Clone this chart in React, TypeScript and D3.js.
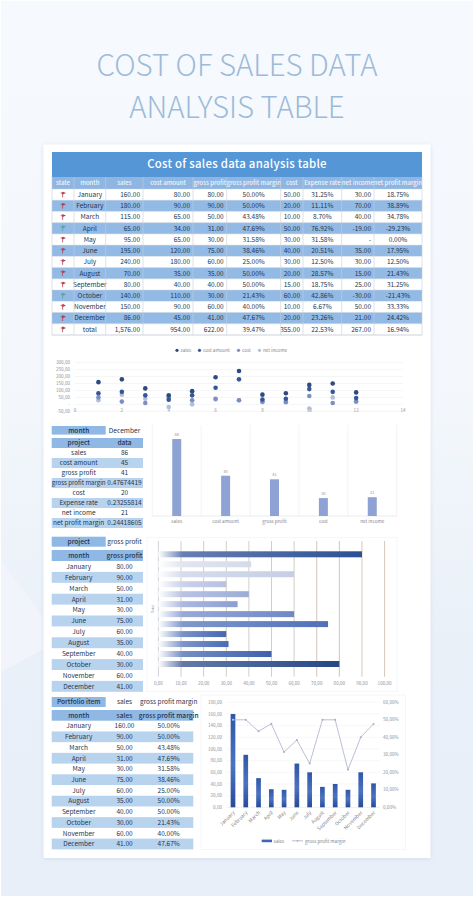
import React from "react";
import * as d3 from "d3";

const months = ["January","February","March","April","May","June","July","August","September","October","November","December"];
const sales = [160,180,115,65,95,195,240,70,80,140,150,86];
const costAmount = [80,90,65,34,65,120,180,35,40,110,90,45];
const grossProfit = [80,90,50,31,30,75,60,35,40,30,60,41];
const grossMargin = [50,50,43.48,47.69,31.58,38.46,25,50,50,21.43,40,47.67];
const cost = [50,20,10,50,30,40,30,20,15,60,10,20];
const expenseRate = [31.25,11.11,8.7,76.92,31.58,20.51,12.5,28.57,18.75,42.86,6.67,23.26];
const netIncome = [30,70,40,-19,0,35,30,15,25,-30,50,21];
const netMargin = [18.75,38.89,34.78,-29.23,0,17.95,12.5,21.43,31.25,-21.43,33.33,24.42];
const totals = ["total","1,576.00","954.00","622.00","39.47%","355.00","22.53%","267.00","16.94%"];
const headers = ["state","month","sales","cost amount","gross profit","gross profit margin","cost","Expense rate","net income","net profit margin"];

const decemberLabels = ["sales","cost amount","gross profit","gross profit margin","cost","Expense rate","net income","net profit margin"];
const decemberValues = ["86","45","41","0.47674419","20","0.23255814","21","0.24418605"];
const barCategories = ["sales","cost amount","gross profit","cost","net income"];
const barValues = [86,45,41,20,21];

const gradientOrder = ["February","December","November","October","September","August","July","June","May","April","March","January"];
const gradientValues = [90,41,60,30,40,35,60,75,30,31,50,80];
const gradientColors = ["#2c4f94","#d5dbea","#c6cee6","#b7c0e0","#9dabd8","#8c9dd2","#6f87c6","#4f70b8","#4568b0","#4a6cb4","#3f62ac","#264685"];

const comboSales = [160,90,50,31,30,75,60,35,40,30,60,41];

const FONT = "'Noto Sans CJK SC', 'Noto Sans', sans-serif";
const INK = "#24364f";
const CELL = 6.5;
const CELL_BOLD = 6.6;
const SMALL = 4.6;
const num = d3.format(",.2f");
const pct = (v: number) => d3.format(".2f")(v).replace("\u2212", "-") + "%";
const plain = (v: number) => (v < 0 ? "-" : "") + d3.format(",.2f")(Math.abs(v));

const colEdges = [52,74,105.7,143,193,226.7,280.7,303,341.7,374,422];
const rowY = d3.scaleLinear().domain([0,13]).range([189,335]);

function Flag({x,y,color}:{x:number;y:number;color:string}) {
  return <g transform={`translate(${x},${y})`}>
    <path d="M-0.4,-2.6V2.8" stroke={color} strokeWidth={0.8} fill="none"/>
    <path d="M-0.2,-2.8L3,-1.5L-0.2,0Z" fill={color}/>
    <path d="M-0.2,-2.8L-2.8,-1.5L-0.2,0Z" fill={color} opacity={0.7}/>
  </g>;
}

function MainTable() {
  const rows = months.map((m,i)=>[
    m,plain(sales[i]),plain(costAmount[i]),plain(grossProfit[i]),pct(grossMargin[i]),plain(cost[i]),pct(expenseRate[i]),
    netIncome[i]===0?"-":plain(netIncome[i]),pct(netMargin[i])
  ]);
  rows.push(totals);
  const anchors = ["middle","end","end","end","middle","end","middle","end","middle"];
  const rightPad = 3;
  return <g fontFamily={FONT}>
    <rect x={52} y={152} width={370} height={25} fill="#5596d6"/>
    <text x={237} y={168.3} textAnchor="middle" fill="#fff" fontSize={11.4} fontWeight={500} letterSpacing={0.25}>Cost of sales data analysis table</text>
    <rect x={52} y={177} width={370} height={12} fill="#8fb6e2"/>
    {headers.map((h,i)=><text key={h} x={(colEdges[i]+colEdges[i+1])/2} y={185.3} textAnchor="middle" fill="#eef5fc" fontSize={6} fontWeight={500}>{h}</text>)}
    {rows.map((r,i)=>{
      const y0=rowY(i), y1=rowY(i+1), blue=i%2===1;
      return <g key={i}>
        <rect x={52} y={y0} width={370} height={y1-y0} fill={blue?"#92bae5":"#fff"}/>
        <Flag x={63} y={(y0+y1)/2} color={i===3||i===9?"#5f9c95":"#b3414c"}/>
        {r.map((c,j)=>{
          const a=anchors[j], L=colEdges[j+1], R=colEdges[j+2];
          return <text key={j} x={a==="end"?R-rightPad:(L+R)/2} y={(y0+y1)/2+2.3} textAnchor={a} fontSize={CELL} fill={INK}>{c}</text>;
        })}
      </g>;
    })}
    {colEdges.map(x=><line key={x} x1={x} x2={x} y1={177} y2={335} stroke="#c8ced8" strokeWidth={0.6}/>)}
    {d3.range(0,14).map(i=><line key={i} x1={52} x2={422} y1={rowY(i)} y2={rowY(i)} stroke="#c8ced8" strokeWidth={0.4}/>)}
    <line x1={52} x2={422} y1={335} y2={335} stroke="#c8ced8" strokeWidth={0.7}/>
  </g>;
}

function Scatter() {
  const x = d3.scaleLinear().domain([0,14]).range([75,403]);
  const y = d3.scaleLinear().domain([-50,300]).range([411.3,362.7]);
  const series = [
    {name:"sales",values:sales,color:"#2e4a7f"},
    {name:"cost amount",values:costAmount,color:"#36569a"},
    {name:"cost",values:cost,color:"#7b8fc1"},
    {name:"net income",values:netIncome,color:"#b6bdd9"},
  ];
  const legendX = [177,199.5,238.5,259.5];
  const ticks = d3.range(-50,301,50);
  const fmt = (t:number)=> t===0?"-":t<0?"-50,00":d3.format(".2f")(t).replace(".",",");
  return <g fontFamily={FONT}>
    {ticks.map(t=><g key={t}>
      <line x1={x(0)} x2={x(14)} y1={y(t)} y2={y(t)} stroke="#eceef2" strokeWidth={0.6}/>
      <text x={70} y={y(t)+1.6} textAnchor="end" fontSize={SMALL} fill="#8f949c">{fmt(t)}</text>
    </g>)}
    {d3.range(0,15,2).map(t=><text key={t} x={x(t)} y={411.8} textAnchor="middle" fontSize={SMALL} fill="#8f949c">{t}</text>)}
    {series.slice().reverse().map(s=>s.values.map((v,i)=>
      <circle key={s.name+i} cx={x(i+1)} cy={y(v)} r={2.3} fill={s.color}/>))}
    {series.map((s,i)=><g key={s.name}>
      <circle cx={legendX[i]} cy={350.3} r={1.6} fill={s.color}/>
      <text x={legendX[i]+3.5} y={351.9} fontSize={SMALL} fill="#7f858e">{s.name}</text>
    </g>)}
  </g>;
}

function DecemberBlock() {
  const rowH = 10;
  return <g fontFamily={FONT}>
    <rect x={51.7} y={426} width={54} height={8.6} fill="#90b8e4"/>
    <text x={78.7} y={432.5} textAnchor="middle" fontSize={CELL_BOLD} fontWeight={500} fill={INK}>month</text>
    <text x={124.5} y={432.5} textAnchor="middle" fontSize={CELL_BOLD} fill={INK}>December</text>
    <rect x={51.7} y={438} width={91.3} height={10} fill="#90b8e4"/>
    <text x={78.7} y={445.2} textAnchor="middle" fontSize={CELL_BOLD} fontWeight={500} fill={INK}>project</text>
    <text x={124.5} y={445.2} textAnchor="middle" fontSize={CELL_BOLD} fontWeight={500} fill={INK}>data</text>
    {decemberLabels.map((l,i)=>{
      const y0=448+i*rowH;
      return <g key={l}>
        {i%2===1&&<rect x={51.7} y={y0} width={91.3} height={rowH} fill="#b8d3ee"/>}
        <text x={78.7} y={y0+7.2} textAnchor="middle" fontSize={l.length>17?6.1:CELL} fill={INK}>{l}</text>
        <text x={124.5} y={y0+7.2} textAnchor="middle" fontSize={CELL} fill={INK}>{decemberValues[i]}</text>
      </g>;
    })}
  </g>;
}

function ColumnChart() {
  const x = d3.scaleBand().domain(barCategories).range([152.3,396.7]);
  const y = d3.scaleLinear().domain([0,100]).range([516,426.5]);
  const w = 9;
  return <g fontFamily={FONT}>
    {d3.range(0,6).map(i=>{const px=152.3+i*x.step();return <line key={i} x1={px} x2={px} y1={425} y2={516} stroke="#eceef2" strokeWidth={0.7}/>;})}
    <line x1={152.3} x2={396.7} y1={516} y2={516} stroke="#dfe2e7" strokeWidth={0.7}/>
    {barCategories.map((c,i)=>{
      const cx=x(c)!+x.bandwidth()/2;
      return <g key={c}>
        <rect x={cx-w/2} y={y(barValues[i])} width={w} height={516-y(barValues[i])} fill="#8ea3d3"/>
        <text x={cx} y={y(barValues[i])-3.2} textAnchor="middle" fontSize={4} fill="#8f949c">{barValues[i]}</text>
        <text x={cx} y={523.4} textAnchor="middle" fontSize={SMALL} fill="#7f858e">{c}</text>
      </g>;
    })}
  </g>;
}

function ProfitBlock() {
  const top=561, h=10.9;
  return <g fontFamily={FONT}>
    <rect x={51.7} y={536.7} width={54} height={10} fill="#90b8e4"/>
    <text x={78.7} y={544} textAnchor="middle" fontSize={CELL_BOLD} fontWeight={500} fill={INK}>project</text>
    <text x={124.5} y={544} textAnchor="middle" fontSize={CELL} fill={INK}>gross profit</text>
    <rect x={51.7} y={550} width={91.3} height={11} fill="#90b8e4"/>
    <text x={78.7} y={557.8} textAnchor="middle" fontSize={CELL_BOLD} fontWeight={500} fill={INK}>month</text>
    <text x={124.5} y={557.8} textAnchor="middle" fontSize={CELL_BOLD} fontWeight={500} fill={INK}>gross profit</text>
    {months.map((m,i)=>{
      const y0=top+i*h;
      return <g key={m}>
        {i%2===1&&<rect x={51.7} y={y0} width={91.3} height={h} fill="#b8d3ee"/>}
        <text x={78.7} y={y0+7.8} textAnchor="middle" fontSize={CELL} fill={INK}>{m}</text>
        <text x={124.5} y={y0+7.8} textAnchor="middle" fontSize={CELL} fill={INK}>{num(grossProfit[i])}</text>
      </g>;
    })}
  </g>;
}

function GradientBars() {
  const x = d3.scaleLinear().domain([0,100]).range([158.4,384.6]);
  const y = d3.scalePoint().domain(gradientOrder).range([554.3,664]);
  const ticks = d3.range(0,101,10);
  return <g fontFamily={FONT}>
    <defs>
      {gradientColors.map((c,i)=>
        <linearGradient key={i} id={`gb${i}`} x1="0" x2="1" y1="0" y2="0">
          <stop offset="0" stopColor="#ffffff"/>
          <stop offset={Math.min(0.5,24/(gradientValues[i]*2.262))} stopColor={d3.interpolateRgb("#ffffff",c)(0.72)}/>
          <stop offset="1" stopColor={c}/>
        </linearGradient>)}
    </defs>
    <rect x={147} y={537.7} width={250} height={154} fill="#fff" stroke="#eef1f5" strokeWidth={0.7}/>
    {ticks.map(t=><g key={t}>
      <line x1={x(t)} x2={x(t)} y1={541} y2={676.7} stroke={t===0?"#c3c8d0":t>=70?"#c9b6aa":"#c6c1b8"} strokeWidth={0.8}/>
      <text x={x(t)} y={685.3} textAnchor="middle" fontSize={SMALL} fill="#9095a0">{d3.format(".2f")(t).replace(".",",")}</text>
    </g>)}
    {gradientOrder.map((m,i)=>
      <rect key={m} x={x(0)} y={y(m)!-3} width={x(gradientValues[i])-x(0)} height={6} fill={`url(#gb${i})`}/>)}
    <text transform="translate(153.5,609) rotate(-90)" textAnchor="middle" fontSize={3.4} fill="#8f949c">Total</text>
  </g>;
}

function MarginBlock() {
  const top=720.7, h=10.72;
  const c1=78.7,c2=124.5,c3=168.7;
  return <g fontFamily={FONT}>
    <rect x={51.7} y={697} width={54} height={10} fill="#90b8e4"/>
    <text x={c1} y={704.4} textAnchor="middle" fontSize={CELL_BOLD} fontWeight={500} fill={INK}>Portfolio item</text>
    <text x={c2} y={704.4} textAnchor="middle" fontSize={CELL} fill={INK}>sales</text>
    <text x={c3} y={704.4} textAnchor="middle" fontSize={CELL} fill={INK}>gross profit margin</text>
    <rect x={51.7} y={710} width={141.6} height={10.7} fill="#90b8e4"/>
    <text x={c1} y={717.6} textAnchor="middle" fontSize={CELL_BOLD} fontWeight={500} fill={INK}>month</text>
    <text x={c2} y={717.6} textAnchor="middle" fontSize={CELL_BOLD} fontWeight={500} fill={INK}>sales</text>
    <text x={c3} y={717.6} textAnchor="middle" fontSize={CELL_BOLD} fontWeight={500} fill={INK}>gross profit margin</text>
    {months.map((m,i)=>{
      const y0=top+i*h;
      return <g key={m}>
        {i%2===1&&<rect x={51.7} y={y0} width={141.6} height={h} fill="#b8d3ee"/>}
        <text x={c1} y={y0+7.7} textAnchor="middle" fontSize={CELL} fill={INK}>{m}</text>
        <text x={c2} y={y0+7.7} textAnchor="middle" fontSize={CELL} fill={INK}>{num(comboSales[i])}</text>
        <text x={c3} y={y0+7.7} textAnchor="middle" fontSize={CELL} fill={INK}>{pct(grossMargin[i])}</text>
      </g>;
    })}
  </g>;
}

function ComboChart() {
  const x = d3.scaleBand().domain(months).range([226.6,379.9]);
  const yL = d3.scaleLinear().domain([0,180]).range([807.3,702.3]);
  const yR = d3.scaleLinear().domain([0,60]).range([807.3,702.3]);
  const cx = (m:string)=>x(m)!+x.bandwidth()/2;
  const line = d3.line<number>().x((_,i)=>cx(months[i])).y(v=>yR(v));
  const w=4.7;
  return <g fontFamily={FONT}>
    <defs>
      <linearGradient id="comboBar" x1="0" x2="0" y1="0" y2="1">
        <stop offset="0" stopColor="#2f57a8"/>
        <stop offset="0.55" stopColor="#4c73c0"/>
        <stop offset="1" stopColor="#254a9a"/>
      </linearGradient>
    </defs>
    <rect x={201} y={695} width={204.7} height={154.3} fill="#fff" stroke="#eef1f5" strokeWidth={0.7}/>
    {d3.range(0,181,20).map(t=><g key={t}>
      <line x1={226.6} x2={379.9} y1={yL(t)} y2={yL(t)} stroke={t===0?"#dfe2e7":"#f0f1f4"} strokeWidth={0.6}/>
      <text x={222} y={yL(t)+1.6} textAnchor="end" fontSize={SMALL} fill="#8f949c">{d3.format(".2f")(t).replace(".",",")}</text>
    </g>)}
    {d3.range(0,61,10).map(t=>
      <text key={t} x={383} y={yR(t)+1.6} fontSize={SMALL} fill="#8f949c">{d3.format(".2f")(t).replace(".",",")}%</text>)}
    {months.map((m,i)=><g key={m}>
      <rect x={cx(m)-w/2} y={yL(comboSales[i])} width={w} height={807.3-yL(comboSales[i])} fill="url(#comboBar)"/>
      <text transform={`translate(${cx(m)+2},813) rotate(-45)`} textAnchor="end" fontSize={4.9} fill="#7f858e">{m}</text>
    </g>)}
    <path d={line(grossMargin)!} fill="none" stroke="#a9aecb" strokeWidth={0.8}/>
    {grossMargin.map((v,i)=><circle key={i} cx={cx(months[i])} cy={yR(v)} r={1} fill={i===0?"#b7c8ea":"#a9aecb"}/>)}
    <rect x={261.7} y={839.6} width={10.3} height={2.6} fill="#3f66b4"/>
    <text x={273.5} y={842.6} fontSize={SMALL} fill="#7f858e">sales</text>
    <line x1={292} x2={303} y1={840.8} y2={840.8} stroke="#a9aecb" strokeWidth={0.8}/>
    <circle cx={297.5} cy={840.8} r={0.9} fill="#a9aecb"/>
    <text x={305} y={842.6} fontSize={SMALL} fill="#7f858e">gross profit margin</text>
  </g>;
}

export default function App() {
  return <svg width={474} height={897} viewBox="0 0 474 897" style={{position:"absolute",left:0,top:0,display:"block"}}>
    <defs>
      <linearGradient id="page" x1="0" x2="0" y1="0" y2="1">
        <stop offset="0" stopColor="#f6f9fd"/>
        <stop offset="0.45" stopColor="#f3f7fb"/>
        <stop offset="0.72" stopColor="#e9f0f8"/>
        <stop offset="1" stopColor="#e8eff8"/>
      </linearGradient>
      <filter id="soft" x="-5%" y="-5%" width="110%" height="110%">
        <feDropShadow dx={0} dy={1} stdDeviation={2} floodColor="#c4d2e4" floodOpacity={0.6}/>
      </filter>
    </defs>
    <rect width={474} height={897} fill="#fff"/>
    <rect x={1} y={1} width={472} height={895} fill="url(#page)"/>
    <path d="M1,672L60,640L1,560Z" fill="#f1f5fb"/>
    <g fontFamily={FONT} fontWeight={300} fill="#9dbbd9" fontSize={29.4} textAnchor="middle">
      <text x={237} y={76}>COST OF SALES DATA</text>
      <text x={237} y={118.3}>ANALYSIS TABLE</text>
    </g>
    <rect x={43.5} y={144.5} width={387} height={713.5} fill="#fff" filter="url(#soft)"/>
    <MainTable/>
    <Scatter/>
    <DecemberBlock/>
    <ColumnChart/>
    <ProfitBlock/>
    <GradientBars/>
    <MarginBlock/>
    <ComboChart/>
  </svg>;
}
